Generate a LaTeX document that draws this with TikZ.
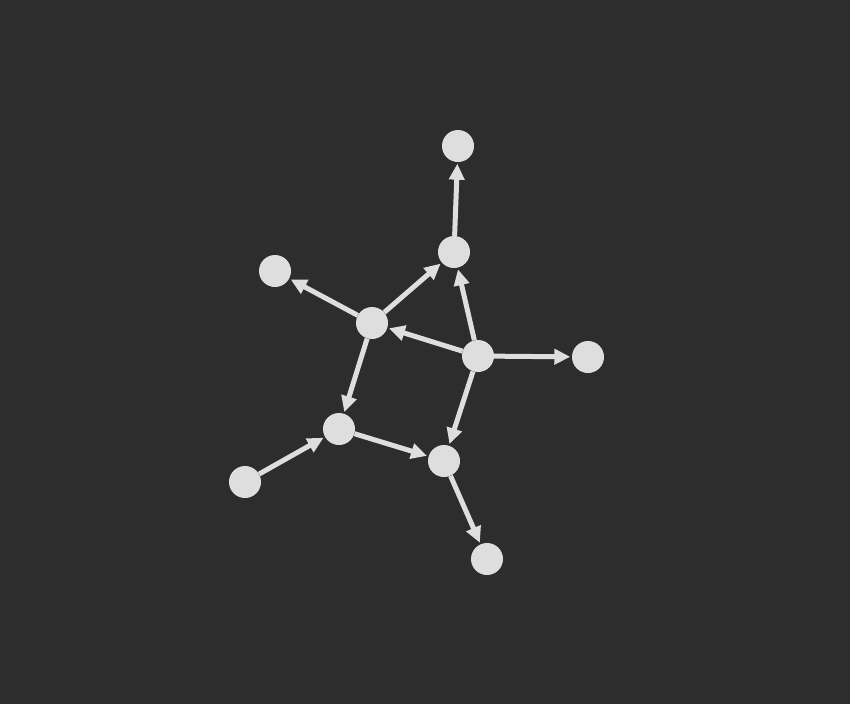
\documentclass[tikz,border=0pt]{standalone}
\usetikzlibrary{arrows.meta}
\definecolor{bg}{HTML}{2D2D2D}
\definecolor{fg}{HTML}{DEDEDE}
\begin{document}
\begin{tikzpicture}[x=1pt,y=-1pt,
  vtx/.style={circle,fill=fg,draw=none,minimum size=32pt,inner sep=0pt},
  edge/.style={draw=fg,line width=5pt,-{Triangle[length=16pt,width=15pt]},shorten >=1.5pt}]
\fill[bg] (0,0) rectangle (850,704);
\useasboundingbox (0,0) rectangle (850,704);
\node[vtx] (A) at (458,146) {};
\node[vtx] (B) at (454,252) {};
\node[vtx] (C) at (275,271) {};
\node[vtx] (D) at (372,323) {};
\node[vtx] (E) at (478,356) {};
\node[vtx] (F) at (588,357) {};
\node[vtx] (G) at (339,429) {};
\node[vtx] (H) at (444,461) {};
\node[vtx] (I) at (245,482) {};
\node[vtx] (J) at (487,559) {};
\draw[edge] (B) -- (A);
\draw[edge] (D) -- (B);
\draw[edge] (D) -- (C);
\draw[edge] (E) -- (D);
\draw[edge] (E) -- (B);
\draw[edge] (E) -- (F);
\draw[edge] (E) -- (H);
\draw[edge] (D) -- (G);
\draw[edge] (G) -- (H);
\draw[edge] (I) -- (G);
\draw[edge] (H) -- (J);
\end{tikzpicture}
\end{document}
